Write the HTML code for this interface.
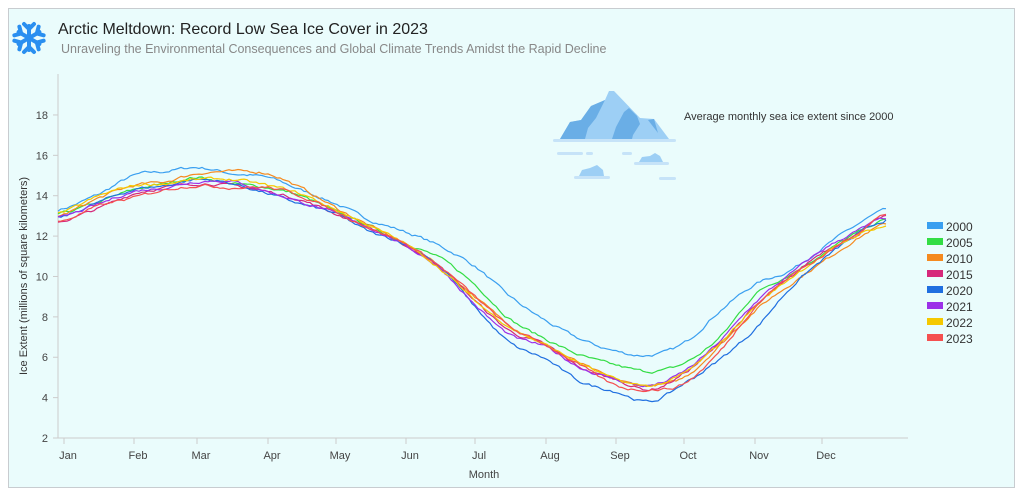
<!DOCTYPE html>
<html><head><meta charset="utf-8"><style>
body{margin:0;width:1024px;height:500px;background:#fff;overflow:hidden;font-family:"Liberation Sans","DejaVu Sans",sans-serif}
#card{position:absolute;left:8px;top:8px;width:1007px;height:480px;background:#eafcfc;border:1px solid #c8ccd0;box-sizing:border-box}
svg{position:absolute;left:0;top:0}
</style></head><body>
<div id="card"></div>
<svg id="s" width="1024" height="500" xmlns="http://www.w3.org/2000/svg" font-family="Liberation Sans, DejaVu Sans, sans-serif">
<!-- snowflake -->
<g stroke="#2a8ff0" stroke-width="4" stroke-linecap="round" fill="none" transform="translate(29,38)">
<g id="arm"><line x1="0" y1="0" x2="0" y2="-12"/><polyline points="-5,-14 0,-9 5,-14"/></g>
<use href="#arm" transform="rotate(60)"/><use href="#arm" transform="rotate(120)"/><use href="#arm" transform="rotate(180)"/><use href="#arm" transform="rotate(240)"/><use href="#arm" transform="rotate(300)"/>
</g>
<text x="58" y="34" font-size="16" fill="#222">Arctic Meltdown: Record Low Sea Ice Cover in 2023</text>
<text x="61" y="53" font-size="12.5" fill="#888">Unraveling the Environmental Consequences and Global Climate Trends Amidst the Rapid Decline</text>
<!-- iceberg -->
<g>
<polygon points="560,139 570,122 581,120 591,106 605,100 609,91 614,91 640,118 654,119 669,139" fill="#9dcff5"/>
<polygon points="560,139 570,122 581,120 591,106 605,100 600,110 596,118 588,128 585,139" fill="#6aaee6"/>
<polygon points="612,139 616,127 624,112 629,108 637,116 640,124 633,135 632,139" fill="#6aaee6"/>
<polygon points="648,120 654,119 658,133" fill="#6aaee6"/>
<rect x="553" y="139" width="123" height="3" rx="1.5" fill="#c6e3f8"/>
<rect x="557" y="152" width="26" height="3" rx="1.5" fill="#c6e3f8"/><rect x="586" y="152" width="7" height="3" rx="1.5" fill="#c6e3f8"/><rect x="622" y="152" width="10" height="3" rx="1.5" fill="#c6e3f8"/>
<polygon points="639,162 642,157 650,156 655,153 660,156 663,162" fill="#9dcff5"/><rect x="634" y="162" width="35" height="3" rx="1.5" fill="#c6e3f8"/>
<polygon points="579,176 582,170 590,168 597,165 603,170 604,176" fill="#9dcff5"/><rect x="574" y="176" width="36" height="3" rx="1.5" fill="#c6e3f8"/>
<rect x="659" y="177" width="17" height="3" rx="1.5" fill="#c6e3f8"/>
</g>
<text x="684" y="120" font-size="11" fill="#333">Average monthly sea ice extent since 2000</text>
<g id="axes" font-size="11" fill="#444"></g>
<g id="lines" fill="none" stroke-width="1.2"></g>
<g id="legend" font-size="12" fill="#333"></g>
<text x="484" y="478" font-size="11" fill="#444" text-anchor="middle">Month</text>
<text transform="translate(27,276) rotate(-90)" font-size="11" fill="#333" text-anchor="middle">Ice Extent (millions of square kilometers)</text>
</svg>
<script>
var NS="http://www.w3.org/2000/svg";
function el(t,a,p,txt){var e=document.createElementNS(NS,t);for(var k in a)e.setAttribute(k,a[k]);if(txt)e.textContent=txt;p.appendChild(e);return e;}
function Y(v){return 438-(v-2)*20.19;}
var ax=document.getElementById('axes');
el('line',{x1:58,y1:74,x2:58,y2:438,stroke:'#ccc'},ax);
el('line',{x1:58,y1:438,x2:908,y2:438,stroke:'#ccc'},ax);
for(var v=2;v<=18;v+=2){el('line',{x1:53,y1:Y(v),x2:58,y2:Y(v),stroke:'#ccc'},ax);el('text',{x:48,y:Y(v)+4,'text-anchor':'end'},ax,String(v));}
var mx=[64,134,197,268,336,406,475,546,616,684,755,822],mn=['Jan','Feb','Mar','Apr','May','Jun','Jul','Aug','Sep','Oct','Nov','Dec'];
for(var i=0;i<12;i++){el('line',{x1:mx[i],y1:438,x2:mx[i],y2:444,stroke:'#ccc'},ax);el('text',{x:mx[i]+4,y:459,'text-anchor':'middle'},ax,mn[i]);}
var X=[58,100,134,165,197,232,268,300,336,370,406,440,475,510,546,580,616,650,684,720,755,790,822,855,886];
var base=[13.0,13.7,14.3,14.5,14.6,14.5,14.2,13.8,13.1,12.4,11.5,10.5,9.0,7.5,6.6,5.6,4.9,4.5,5.2,6.7,8.5,9.9,11.0,12.0,12.8];
var series=[
['2000','#3a9ff0',[0.3,0.4,0.7,0.7,0.8,0.6,0.7,0.5,0.5,0.4,0.7,1.0,1.5,1.5,1.2,1.3,1.4,1.6,1.5,1.6,1.1,0.4,0.4,0.5,0.5]],
['2005','#33dd44',[0.1,0,0,0.1,0.3,0.1,0.2,0.2,0.1,0.1,0.1,0.4,0.6,0.4,0.3,0.5,0.7,0.8,0.5,0.3,0.6,0.2,0.1,0.1,0]],
['2010','#f58a1f',[0,0.2,0.2,0.2,0.5,0.7,0.9,0.6,0.3,0.1,0.1,0,0,0.1,0,0.1,0,0.1,-0.2,-0.1,-0.2,-0.3,-0.3,-0.2,-0.2]],
['2015','#d6287a',[-0.3,-0.3,-0.2,-0.1,0,0,0,0,0,0,0,0,-0.2,-0.2,0,-0.1,0,-0.1,0,0,0,0,0.2,0,0.2]],
['2020','#1f6fe0',[-0.1,0,0,0,0.2,0.1,-0.1,-0.2,0,-0.2,0.1,0,-0.5,-0.8,-0.7,-0.8,-0.6,-0.7,-0.5,-0.8,-1.1,-0.5,-0.2,0,0]],
['2021','#9b30e8',[-0.1,-0.1,-0.1,-0.1,0.1,0.2,0,-0.1,0,0,0,-0.1,-0.4,-0.4,-0.1,-0.1,0,0.1,0.1,0.1,0.2,0.2,0.3,0.2,0.1]],
['2022','#f5c800',[0.1,0.3,0.2,0.1,0.2,0.3,0.3,0.3,0.2,0.1,0.1,-0.1,-0.2,0,0,0.1,0,0.1,0,0,0,0,0,0,-0.3]],
['2023','#f55050',[-0.3,-0.2,-0.4,-0.2,-0.1,-0.1,0.2,0.2,0.1,0,0.1,0,0,0,0,0,-0.3,-0.1,-0.5,-0.4,0,0.1,0,0.1,0.3]]];
function interp(xs,ys,x){for(var i=0;i<xs.length-1;i++){if(x<=xs[i+1]){var t=(x-xs[i])/(xs[i+1]-xs[i]);var s=t*t*(3-2*t);
var y0=ys[Math.max(i-1,0)],y1=ys[i],y2=ys[i+1],y3=ys[Math.min(i+2,ys.length-1)];
return 0.5*((2*y1)+(-y0+y2)*t+(2*y0-5*y1+4*y2-y3)*t*t+(-y0+3*y1-3*y2+y3)*t*t*t);}}return ys[ys.length-1];}
var lg=document.getElementById('lines'),leg=document.getElementById('legend');
var seed=7;function rnd(){seed=(seed*16807)%2147483647;return seed/2147483647-0.5;}
series.forEach(function(s,k){var ys=base.map(function(b,i){return b+s[2][i];});var pts=[],n=0;
for(var x=58;x<=886;x+=3){n=n*0.6+rnd()*0.12;pts.push(x+','+Y(interp(X,ys,x)+n).toFixed(1));}
el('polyline',{points:pts.join(' '),stroke:s[1]},lg);
var yy=227+k*16;el('rect',{x:927,y:yy-5,width:16,height:7,fill:s[1]},leg);el('text',{x:946,y:yy+4},leg,s[0]);});
</script>
</body></html>
